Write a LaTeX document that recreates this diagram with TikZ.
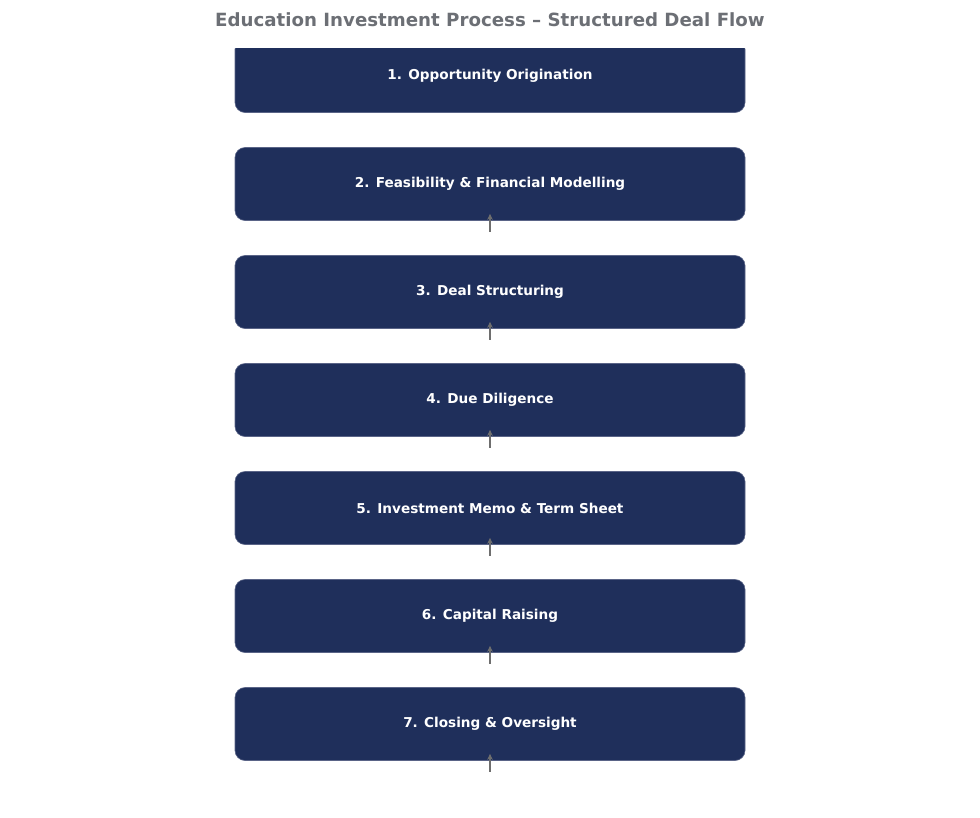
\documentclass[tikz,border=0pt]{standalone}
\usepackage{fontspec}
\setmainfont{DejaVu Sans}
\usetikzlibrary{arrows.meta}
\definecolor{navy}{HTML}{1F2F5B}
\definecolor{navyedge}{HTML}{5A6487}
\definecolor{titlegray}{HTML}{6C6F75}
\definecolor{arrgray}{HTML}{6E6E6E}
\tikzset{
  stagebox/.style={rectangle, rounded corners=10pt, fill=navy, draw=navyedge, line width=0.6pt,
    minimum width=510pt, minimum height=73pt, inner sep=0pt,
    text=white, font=\fontsize{13.6}{15}\selectfont\bfseries},
  uparrow/.style={draw=arrgray, line width=1.4pt, -{Stealth[length=6pt,width=5.5pt]}},
  titletext/.style={text=titlegray, font=\fontsize{18.2}{21}\selectfont\bfseries}
}
\begin{document}
\begin{tikzpicture}[x=1pt,y=-1pt]
\useasboundingbox (0,0) rectangle (980,817);
\node[titletext] (title) at (490,20) {Education Investment Process – Structured Deal Flow};
\begin{scope}
\clip (200,48) rectangle (780,130);
\node[stagebox] (b1) at (490,76) {1. Opportunity Origination};
\end{scope}
\node[stagebox] (b2) at (490,184) {2. Feasibility \& Financial Modelling};
\node[stagebox] (b3) at (490,292) {3. Deal Structuring};
\node[stagebox] (b4) at (490,400) {4. Due Diligence};
\node[stagebox] (b5) at (490,508) {5. Investment Memo \& Term Sheet};
\node[stagebox] (b6) at (490,616) {6. Capital Raising};
\node[stagebox] (b7) at (490,724) {7. Closing \& Oversight};
\foreach \i in {2,...,7}{
  \coordinate (s\i) at ([yshift=-11pt]b\i.south);
  \coordinate (e\i) at ([yshift=7pt]b\i.south);
  \draw[uparrow] (s\i) -- (e\i);
}
\end{tikzpicture}
\end{document}
